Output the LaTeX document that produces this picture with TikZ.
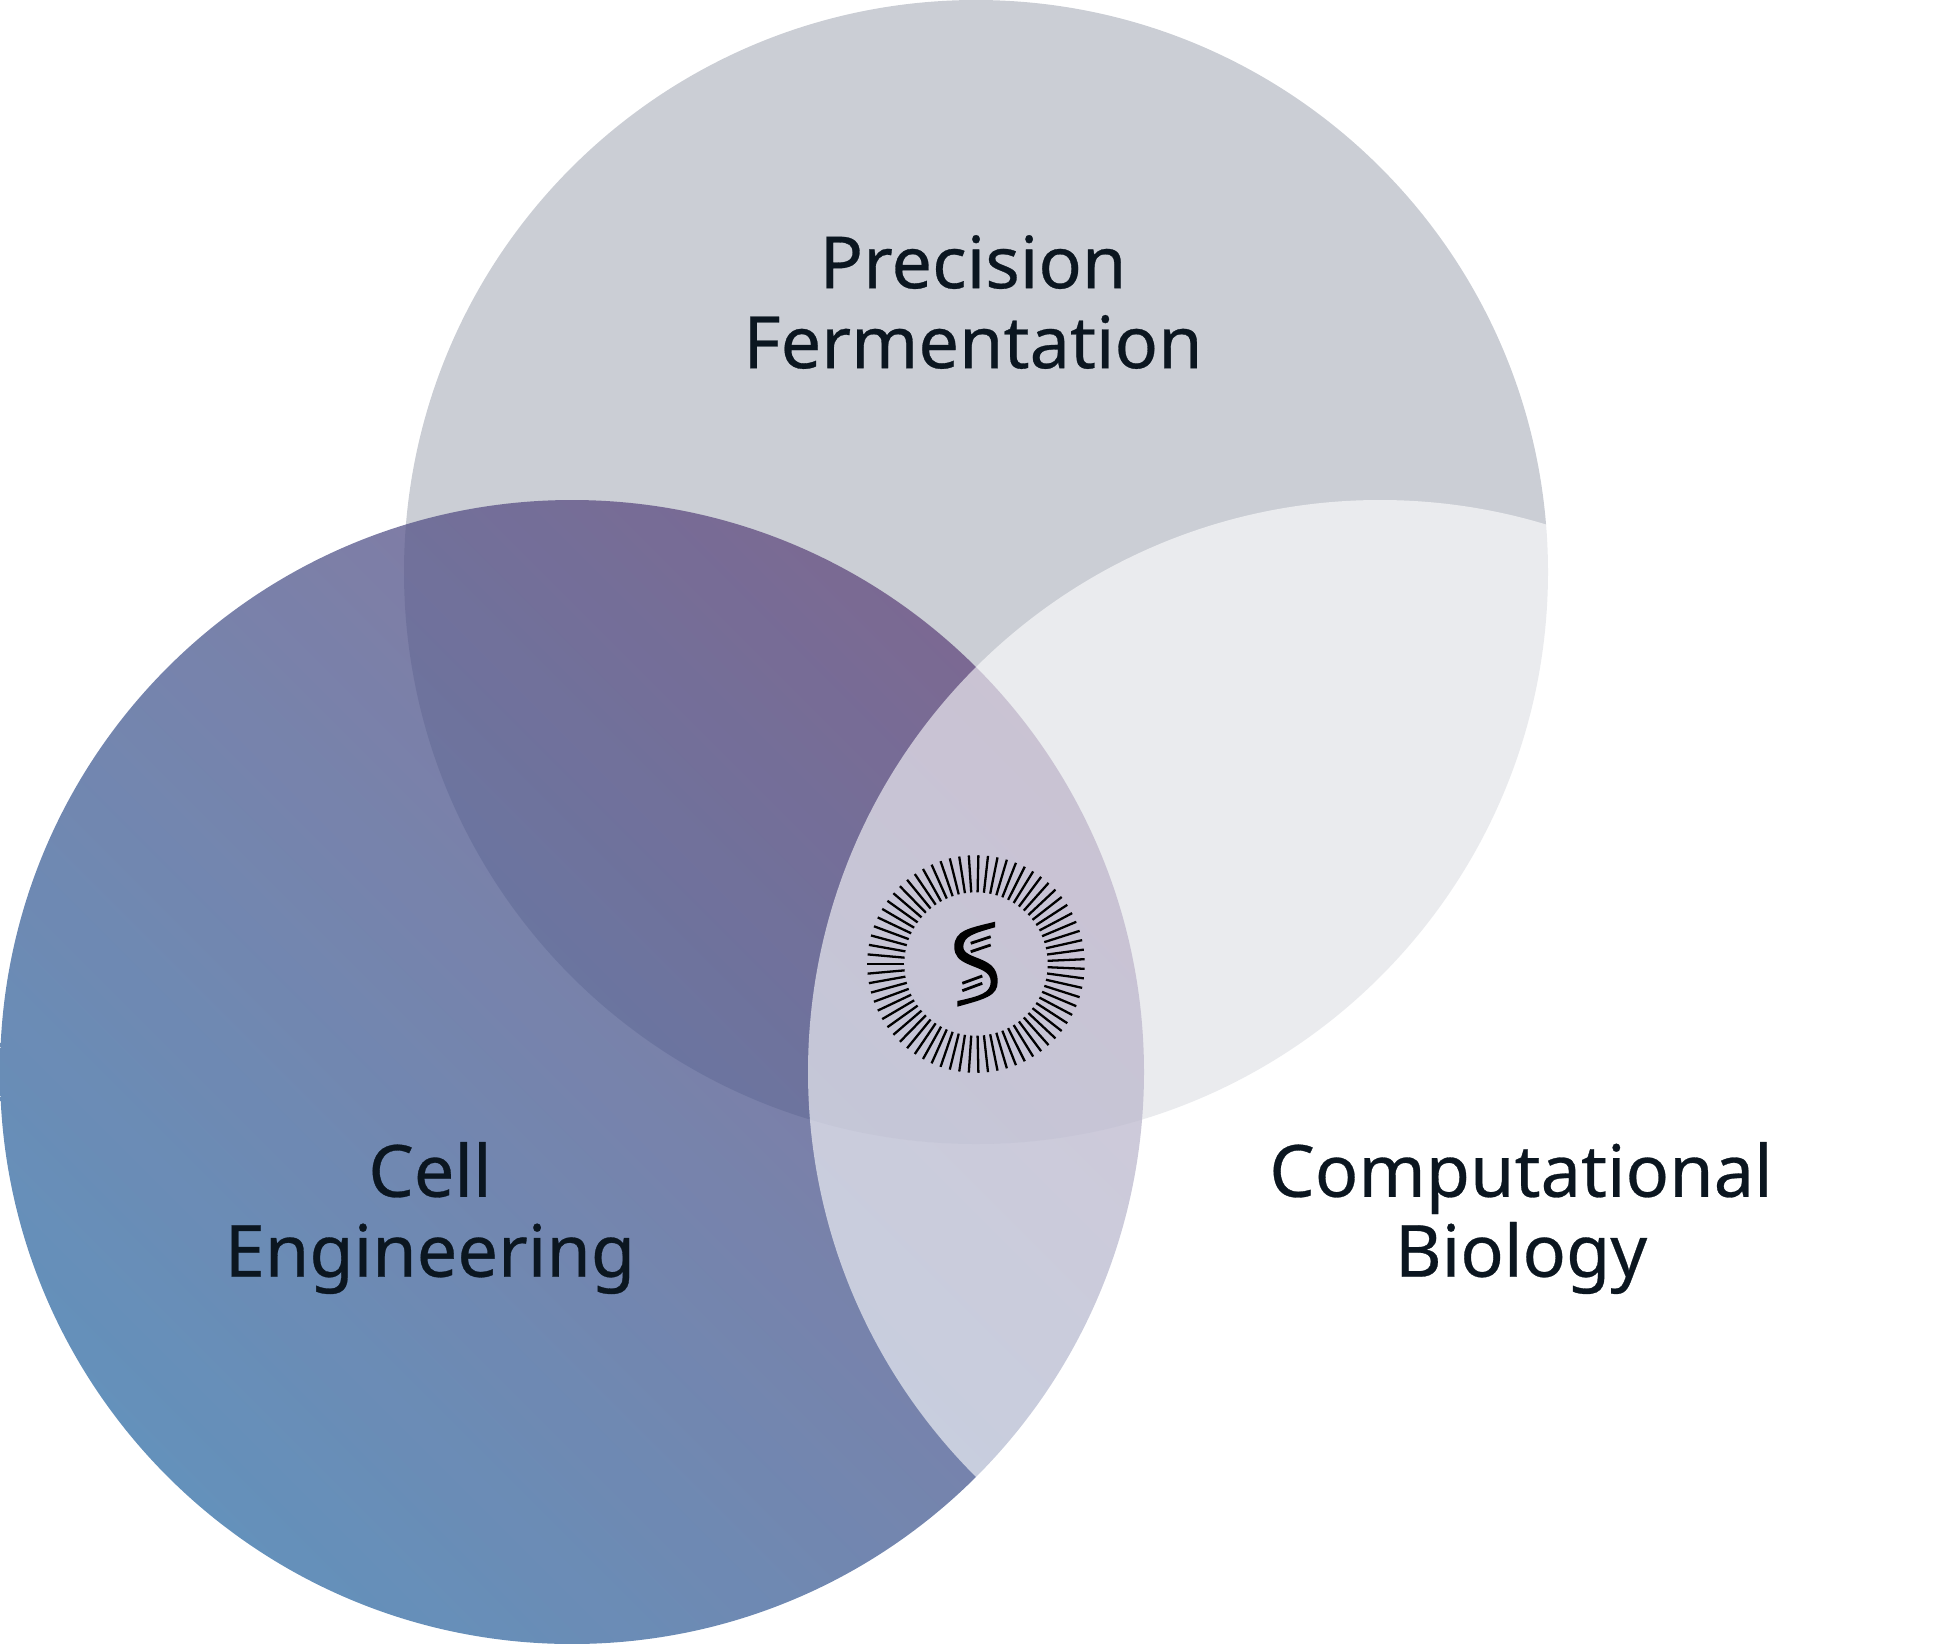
\documentclass[tikz,border=0pt]{standalone}
\usepackage{fontspec}
\setmainfont{Noto Sans}[FakeBold=0.4]
\definecolor{leafgray}{RGB}{203,206,213}
\definecolor{leafblue}{RGB}{48,108,164}
\definecolor{leafplum}{RGB}{97,72,125}
\definecolor{inkdark}{RGB}{11,22,32}
\tikzset{
	vennlabel/.style={align=center, text=inkdark, font=\fontsize{41}{45.5}\selectfont},
	raytick/.style={draw=black, line width=1.3pt},
	helixbar/.style={draw=black, line width=1.6pt}
}

\begin{document}
\begin{tikzpicture}[x=0.02cm, y=-0.02cm]
	\useasboundingbox (0,0) rectangle (1952,1644);
	\path[fill=leafgray] (976,572) circle (572);
	\path[left color=leafplum, right color=leafblue, shading angle=-45, fill opacity=0.75] (572,1072) circle (572);
	\path[fill=white, fill opacity=0.6] (1380,1072) circle (572);
	\node[vennlabel] (precision) at (973,302) {Precision\\Fermentation};
	\node[vennlabel] (cell) at (430,1218) {Cell\\Engineering};
	\node[vennlabel] (computational) at (1521,1218) {Computational\\Biology};
	% ring of ticks
	\begin{scope}[shift={(976,964)}]
		\foreach \k in {0,...,70}
			\draw[raytick] (180+\k*5.0704:71.7) -- (180+\k*5.0704:108.8);
	\end{scope}
	% helix letter
	\path[fill=black] (995,921.7) .. controls (970,928) and (954.3,930) .. (954.3,946.7)
		.. controls (954.3,956) and (959,960.5) .. (970,965)
		.. controls (981,969.5) and (990.7,972) .. (990.7,981.7)
		.. controls (990.7,993) and (980,996) .. (957.3,1001)
		-- (957.3,1006.7)
		.. controls (985,999) and (997.7,996) .. (997.7,981.7)
		.. controls (997.7,966) and (988,962) .. (975,957)
		.. controls (966,953.5) and (963.3,951) .. (963.3,946.7)
		.. controls (963.3,936) and (975,933) .. (995,927.3) -- cycle;
	\draw[helixbar] (970.7,943.3) -- (990.7,936.7);
	\draw[helixbar] (970.7,951.7) -- (990.7,945);
	\draw[helixbar] (962.3,983.3) -- (982.3,976);
	\draw[helixbar] (962.3,990.7) -- (982.3,983.3);
\end{tikzpicture}
\end{document}
